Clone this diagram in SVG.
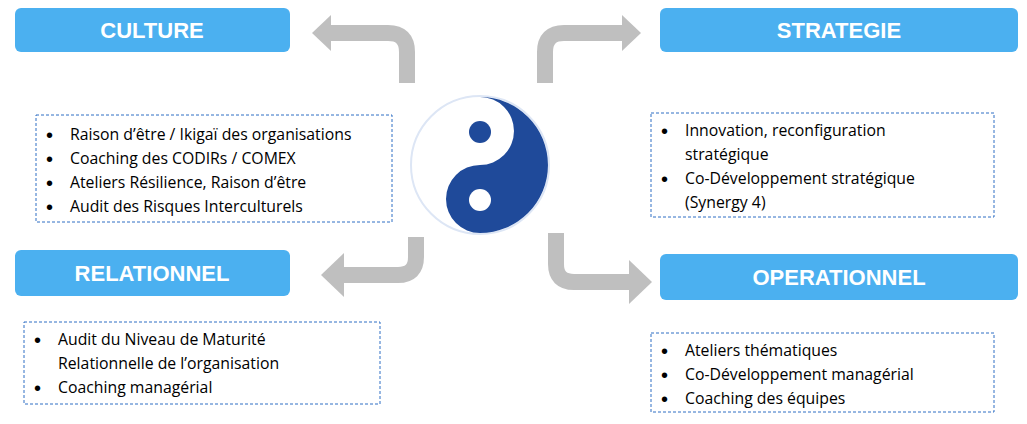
<svg xmlns="http://www.w3.org/2000/svg" width="1027" height="424" viewBox="0 0 1027 424">
<style>
.hdr{fill:#4bb0f0}
.ht{font-family:"Liberation Sans",Arial,sans-serif;font-weight:bold;font-size:22px;fill:#fff;text-anchor:middle}
.lb{fill:#fff;stroke:#2f6fc4;stroke-width:1;stroke-dasharray:3,2}
.t{font-family:"Open Sans","Liberation Sans",sans-serif;font-size:15.8px;fill:#000}
.b{font-family:"Liberation Sans",sans-serif;font-size:20px;fill:#000}
.ar{fill:none;stroke:#bfbfbf;stroke-width:16}
.hd{fill:#bfbfbf}
</style>
<rect width="1027" height="424" fill="#fff"/>
<g id="connectors">
<path class="ar" d="M407 83 V52 Q407 33 388 33 H330"/><polygon class="hd" points="312,33 331,15 331,51"/>
<path class="ar" d="M545 83 V52 Q545 33 564 33 H624"/><polygon class="hd" points="641,33 622,15 622,51"/>
<path class="ar" d="M416 237 V257 Q416 275 398 275 H344"/><polygon class="hd" points="321,275 344,253 344,297"/>
<path class="ar" d="M556 233 V264 Q556 282 574 282 H630"/><polygon class="hd" points="652,282 629,260 629,304"/>
</g>
<g id="yinyang">
<circle cx="480" cy="165" r="69" fill="#fff" stroke="#dde6f5" stroke-width="2"/>
<path d="M480 97 A68 68 0 0 1 480 233 A34 34 0 0 1 480 165 A34 34 0 0 0 480 97 Z" fill="#1f4a9a"/>
<circle cx="480" cy="132" r="11" fill="#1f4a9a"/>
<circle cx="480" cy="200" r="11" fill="#fff"/>
</g>
<g id="culture"><rect class="hdr" x="15" y="8" width="275" height="44" rx="6"/><text class="ht" x="152" y="38">CULTURE</text></g>
<g id="strategie"><rect class="hdr" x="660" y="8" width="358" height="44" rx="6"/><text class="ht" x="839" y="38">STRATEGIE</text></g>
<g id="relationnel"><rect class="hdr" x="15" y="250" width="275" height="46" rx="6"/><text class="ht" x="152" y="281">RELATIONNEL</text></g>
<g id="operationnel"><rect class="hdr" x="660" y="254" width="358" height="46" rx="6"/><text class="ht" x="839" y="285">OPERATIONNEL</text></g>
<g id="culture-list"><rect class="lb" x="36" y="115" width="356" height="107"/>
<text class="b" x="46" y="142">•</text><text class="t" x="70" y="140">Raison d’être / Ikigaï des organisations</text>
<text class="b" x="46" y="166">•</text><text class="t" x="70" y="164">Coaching des CODIRs / COMEX</text>
<text class="b" x="46" y="190">•</text><text class="t" x="70" y="188">Ateliers Résilience, Raison d’être</text>
<text class="b" x="46" y="214">•</text><text class="t" x="70" y="212">Audit des Risques Interculturels</text></g>
<g id="strategie-list"><rect class="lb" x="651" y="113" width="343" height="104"/>
<text class="b" x="661" y="138">•</text><text class="t" x="685" y="136">Innovation, reconfiguration</text>
<text class="t" x="685" y="160">stratégique</text>
<text class="b" x="661" y="186">•</text><text class="t" x="685" y="184">Co-Développement stratégique</text>
<text class="t" x="685" y="208">(Synergy 4)</text></g>
<g id="relationnel-list"><rect class="lb" x="24" y="322" width="356" height="82"/>
<text class="b" x="34" y="347">•</text><text class="t" x="58" y="345">Audit du Niveau de Maturité</text>
<text class="t" x="58" y="369">Relationnelle de l’organisation</text>
<text class="b" x="34" y="395">•</text><text class="t" x="58" y="393">Coaching managérial</text></g>
<g id="operationnel-list"><rect class="lb" x="651" y="333" width="343" height="79"/>
<text class="b" x="661" y="358">•</text><text class="t" x="685" y="356">Ateliers thématiques</text>
<text class="b" x="661" y="382">•</text><text class="t" x="685" y="380">Co-Développement managérial</text>
<text class="b" x="661" y="406">•</text><text class="t" x="685" y="404">Coaching des équipes</text></g>
</svg>
